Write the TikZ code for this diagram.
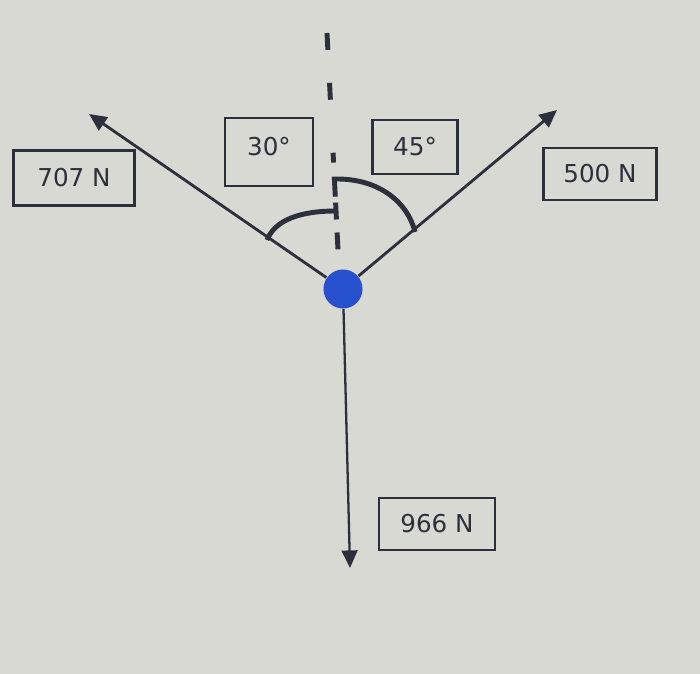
\documentclass[tikz,border=0pt]{standalone}
\usepackage{fontspec}
\setmainfont{DejaVu Sans}
\usetikzlibrary{arrows.meta, positioning}
\usepackage{xcolor}

\definecolor{paper}{RGB}{216,217,210}
\definecolor{ink}{RGB}{44,48,60}
\definecolor{jointblue}{RGB}{38,80,205}

\begin{document}
\begin{tikzpicture}[x=0.01cm, y=-0.01cm,
		forcebox/.style={draw=ink, line width=0.6pt, inner sep=0pt, text=ink,
			font=\fontsize{7}{8}\selectfont},
		forceline/.style={ink, line width=0.8pt, -{Triangle[length=5pt,width=4.5pt]}},
		anglearc/.style={ink, line width=1.4pt},
	]
				\fill[paper] (0,0) rectangle (700,674);
				\useasboundingbox (0,0) rectangle (700,674);
				% joint and free ends of the forces
				\node[circle, fill=jointblue, minimum size=0.39cm, inner sep=0pt] (joint) at (343,289) {};
				\coordinate (tipL) at (89,114);
				\coordinate (tipR) at (557,110);
				\coordinate (tipD) at (350,568);
				\coordinate (vtop) at (327,33);
				\coordinate (vbot) at (338,250);
				% forces
				\draw[forceline] (joint) -- (tipL);
				\draw[forceline] (joint) -- (tipR);
				\draw[forceline, line width=0.65pt] (joint) -- (tipD);
				% vertical reference
				\draw[ink, line width=1.4pt, dash pattern=on 4.8pt off 9.4pt on 4.8pt off 15.1pt on 2.8pt off 4pt on 5.7pt off 1.7pt on 4.8pt off 3.7pt on 4.8pt off 20pt] (vtop) -- (vbot);
				% angle marks
				\draw[anglearc] (267,240) .. controls (275,220) and (300,211) .. (336,211);
				\draw[anglearc] (337,179) .. controls (380,179) and (408,203) .. (415,232);
				% labels
				\node[forcebox, minimum width=1.21cm, minimum height=0.55cm] (lbl707) at (74,178) {707 N};
				\node[forcebox, minimum width=1.13cm, minimum height=0.52cm] (lbl500) at (600,174) {500 N};
				\node[forcebox, minimum width=1.16cm, minimum height=0.52cm] (lbl966) at (437,524) {966 N};
				\node[forcebox, minimum width=0.88cm, minimum height=0.68cm] (ang30) at (269,152) {\raisebox{0.12cm}{30°}\hspace{0.08cm}};
				\node[forcebox, minimum width=0.85cm, minimum height=0.54cm] (ang45) at (415,147) {45°};
			\end{tikzpicture}
\end{document}
